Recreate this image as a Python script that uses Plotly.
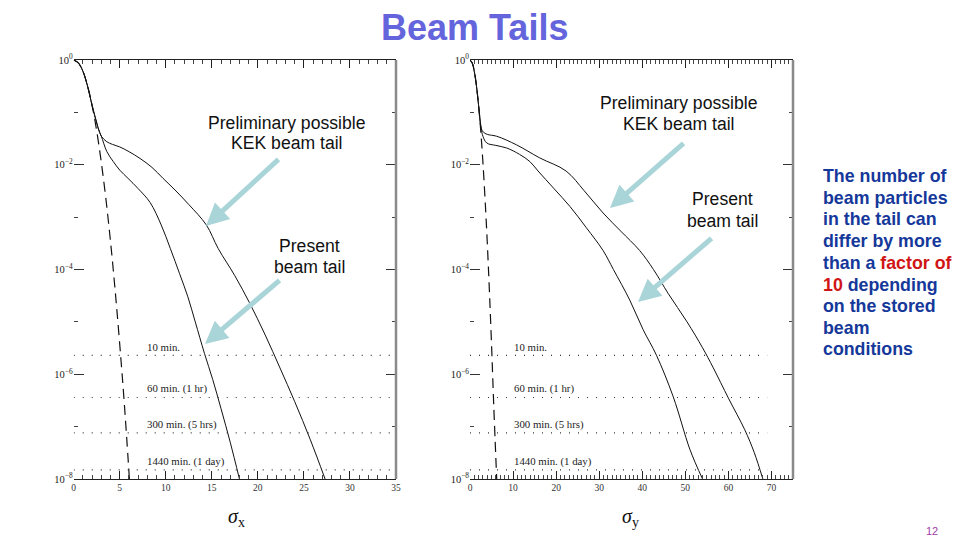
import math
import plotly.graph_objects as go

# ---------------- data ----------------
# Left panel: sigma_x
LX_GAUSS = [0, 0.5, 1.0, 1.5, 2.0, 2.5, 3.0, 3.5, 4.0, 4.5, 5.0, 5.5, 6.05]
LY_GAUSS = [1.0, 0.88, 0.61, 0.32, 0.135, 0.044, 0.011, 2.2e-3, 3.4e-4, 4.0e-5, 3.7e-6, 2.7e-7, 1.0e-8]

LX_KEK = [0, 0.5, 1.0, 1.5, 2.0, 2.5, 2.7, 3.0, 3.6, 4.2, 5.0, 6.0, 7.2, 8.5, 9.7, 11.0, 12.5,
          14.4, 15.7, 17.5, 19.1, 20.8, 22.4, 24.0, 25.7, 27.3]
LY_KEK = [1.0, 0.88, 0.61, 0.32, 0.135, 0.063, 0.048, 0.035, 0.0275, 0.0245, 0.0219, 0.0178, 0.0132,
          8.9e-3, 5.5e-3, 3.3e-3, 1.74e-3, 7.1e-4, 2.5e-4, 7.6e-5, 2.3e-5, 5.6e-6, 1.32e-6, 3.0e-7,
          5.6e-8, 1.0e-8]

LX_PRES = [0, 0.5, 1.0, 1.5, 2.0, 2.5, 2.7, 3.0, 3.6, 4.3, 5.0, 5.9, 7.0, 8.3, 9.5, 10.5, 11.5,
           12.4, 13.2, 14.2, 15.1, 16.0, 17.0, 18.0]
LY_PRES = [1.0, 0.88, 0.61, 0.32, 0.135, 0.063, 0.047, 0.035, 0.0178, 0.0115, 7.9e-3, 5.5e-3, 3.5e-3,
           1.9e-3, 7.1e-4, 2.5e-4, 8.3e-5, 3.0e-5, 1.0e-5, 2.5e-6, 7.9e-7, 2.2e-7, 5.0e-8, 1.0e-8]

# Right panel: sigma_y
RX_GAUSS = [0, 0.5, 1.0, 1.5, 2.0, 2.5, 3.0, 3.5, 4.0, 4.5, 5.0, 5.5, 6.2]
RY_GAUSS = [1.0, 0.88, 0.61, 0.32, 0.135, 0.044, 0.011, 2.2e-3, 3.4e-4, 4.0e-5, 3.7e-6, 2.7e-7, 1.0e-8]

RX_KEK = [0, 0.5, 1.0, 1.5, 2.0, 2.6, 3.1, 4.0, 6.2, 10.8, 16.2, 22.3, 26.5, 30.9, 35.0, 39.4,
          42.6, 46.0, 50.4, 54.0, 56.5, 60.0, 63.8, 66.0, 68.0]
RY_KEK = [1.0, 0.89, 0.60, 0.32, 0.135, 0.050, 0.042, 0.038, 0.035, 0.024, 0.0135, 7.6e-3, 3.2e-3,
          1.2e-3, 5.4e-4, 2.3e-4, 1.0e-4, 3.5e-5, 1.0e-5, 3.2e-6, 1.32e-6, 3.5e-7, 8.7e-8, 3.2e-8, 1.0e-8]

RX_PRES = [0, 0.5, 1.0, 1.5, 2.0, 2.6, 3.0, 3.9, 6.0, 8.5, 11.5, 13.9, 15.8, 19.5, 23.2, 27.0,
           30.9, 33.3, 37.1, 40.2, 43.3, 47.2, 51.1, 54.0]
RY_PRES = [1.0, 0.89, 0.60, 0.32, 0.135, 0.050, 0.035, 0.026, 0.0234, 0.0209, 0.0158, 0.0115, 7.6e-3,
           3.5e-3, 1.6e-3, 6.3e-4, 2.3e-4, 1.0e-4, 2.6e-5, 7.1e-6, 2.3e-6, 3.7e-7, 3.6e-8, 1.0e-8]

# Storage-time thresholds (horizontal dotted lines)
TIME_LABELS = ["10 min.", "60 min. (1 hr)", "300 min. (5 hrs)", "1440 min. (1 day)"]
TIME_LEVELS = [2.3e-6, 3.6e-7, 7.6e-8, 1.5e-8]
LEFT_DOT_X = [0, 35]
RIGHT_DOT_X = [0, 69]
LEFT_LABEL_X = 7.7
RIGHT_LABEL_X = 9.7

Y_TICKVALS = [1, 1e-2, 1e-4, 1e-6, 1e-8]
Y_TICKTEXT = ["10<sup>0</sup>", "10<sup>−2</sup>", "10<sup>−4</sup>", "10<sup>−6</sup>", "10<sup>−8</sup>"]
Y_MINOR = [1e-1, 1e-3, 1e-5, 1e-7]
LEFT_XTICKS = [0, 5, 10, 15, 20, 25, 30, 35]
RIGHT_XTICKS = [0, 10, 20, 30, 40, 50, 60, 70]

TITLE = "Beam Tails"
CALLOUT_KEK = ["Preliminary possible", "KEK beam tail"]
CALLOUT_PRESENT = ["Present", "beam tail"]
RED = "#d01515"
SIDE_LINES = [
    "The number of",
    "beam particles",
    "in the tail can",
    "differ by more",
    f"than a <span style='color:{RED}'>factor of</span>",
    f"<span style='color:{RED}'>10</span> depending",
    "on the stored",
    "beam",
    "conditions",
]
PAGE_NO = "12"

# ---------------- figure ----------------
W, H = 960, 540
fig = go.Figure()


def px(x):
    return x / W


def py(y):
    return 1 - y / H


curve_line = dict(color="#111111", width=1)
dash_line = dict(color="#111111", width=1.2, dash="10px,6px")
dot_line = dict(color="#333333", width=1.2, dash="1px,8px")

for xa, ya, gx, gy, kx, ky, pxx, pyy, dx in [
    ("x", "y", LX_GAUSS, LY_GAUSS, LX_KEK, LY_KEK, LX_PRES, LY_PRES, LEFT_DOT_X),
    ("x2", "y2", RX_GAUSS, RY_GAUSS, RX_KEK, RY_KEK, RX_PRES, RY_PRES, RIGHT_DOT_X),
]:
    fig.add_trace(go.Scatter(x=gx, y=gy, mode="lines", line=dash_line, xaxis=xa, yaxis=ya,
                             line_shape="spline", showlegend=False, hoverinfo="skip"))
    fig.add_trace(go.Scatter(x=kx, y=ky, mode="lines", line=curve_line, xaxis=xa, yaxis=ya,
                             line_shape="spline", showlegend=False, hoverinfo="skip"))
    fig.add_trace(go.Scatter(x=pxx, y=pyy, mode="lines", line=curve_line, xaxis=xa, yaxis=ya,
                             line_shape="spline", showlegend=False, hoverinfo="skip"))
    for lev in TIME_LEVELS:
        fig.add_trace(go.Scatter(x=dx, y=[lev, lev], mode="lines", line=dot_line, xaxis=xa, yaxis=ya,
                                 showlegend=False, hoverinfo="skip"))

serif = "Liberation Serif, DejaVu Serif, serif"
sans = "Liberation Sans, Arial, sans-serif"


def xaxis_cfg(domain, rng, ticks, anchor):
    return dict(domain=domain, range=rng, anchor=anchor, automargin=False,
                tickvals=ticks, ticktext=[str(t) for t in ticks],
                ticks="inside", ticklen=8, tickwidth=1, tickcolor="#222",
                showline=True, linecolor="#222", linewidth=1, mirror="ticks",
                showgrid=False, zeroline=False,
                minor=dict(dtick=1, tick0=0, ticks="inside", ticklen=4, tickcolor="#444", showgrid=False),
                tickfont=dict(family=serif, size=9.5, color="#333"))


def yaxis_cfg(anchor):
    return dict(domain=[py(479), py(60)], type="log", range=[-8, 0], anchor=anchor, automargin=False,
                tickvals=Y_TICKVALS, ticktext=Y_TICKTEXT,
                ticks="inside", ticklen=10, tickwidth=1, tickcolor="#333",
                showline=False, mirror="ticks", showgrid=False, zeroline=False,
                minor=dict(tickmode="array", tickvals=Y_MINOR, ticks="inside", ticklen=4,
                           tickcolor="#444", showgrid=False),
                tickfont=dict(family=serif, size=10.5, color="#222"))


fig.update_layout(
    width=W, height=H, margin=dict(l=0, r=0, t=0, b=0, pad=0), autosize=False,
    paper_bgcolor="white", plot_bgcolor="white", showlegend=False,
    xaxis=xaxis_cfg([px(73.7), px(396)], [0, 35], LEFT_XTICKS, "y"),
    yaxis=yaxis_cfg("x"),
    xaxis2=xaxis_cfg([px(470), px(793)], [0, 75], RIGHT_XTICKS, "y2"),
    yaxis2=yaxis_cfg("x2"),
)

shapes = []
for xr, yr in [("x domain", "y domain"), ("x2 domain", "y2 domain")]:
    shapes.append(dict(type="line", xref=xr, yref=yr, x0=1, x1=1, y0=0, y1=1,
                       line=dict(color="#8a8a8a", width=2.5)))
fig.update_layout(shapes=shapes)

ann = []
# time-level labels
for xr, yr, lx in [("x", "y", LEFT_LABEL_X), ("x2", "y2", RIGHT_LABEL_X)]:
    for lab, lev in zip(TIME_LABELS, TIME_LEVELS):
        ann.append(dict(xref=xr, yref=yr, x=lx, y=math.log10(lev), text=lab, showarrow=False,
                        xanchor="left", yanchor="bottom", yshift=0,
                        font=dict(family=serif, size=10.8, color="#222")))

# title
ann.append(dict(xref="paper", yref="paper", x=px(474), y=py(27), text=f"<b>{TITLE}</b>",
                showarrow=False, xanchor="center", yanchor="middle",
                font=dict(family=sans, size=36, color="#6464dc")))

# axis symbols
ann.append(dict(xref="paper", yref="paper", x=px(236), y=py(517), text="<i>σ</i><sub>x</sub>",
                showarrow=False, xanchor="center", yanchor="middle",
                font=dict(family=serif, size=20, color="#111")))
ann.append(dict(xref="paper", yref="paper", x=px(630), y=py(517), text="<i>σ</i><sub>y</sub>",
                showarrow=False, xanchor="center", yanchor="middle",
                font=dict(family=serif, size=20, color="#111")))

# callout texts (one annotation per line)
callouts = [
    (286, [123, 143], CALLOUT_KEK),
    (309, [246, 267], CALLOUT_PRESENT),
    (678, [103, 124], CALLOUT_KEK),
    (722, [199, 221], CALLOUT_PRESENT),
]
for cx, ys, lines in callouts:
    for yy, t in zip(ys, lines):
        ann.append(dict(xref="paper", yref="paper", x=px(cx), y=py(yy), text=t, showarrow=False,
                        xanchor="center", yanchor="middle",
                        font=dict(family=sans, size=17.6, color="#111")))

# arrows (tail -> head)
arrows = [
    ((280, 158), (206, 226)),
    ((281, 279), (205, 344)),
    ((685, 142), (610, 208)),
    ((713, 237), (638, 302)),
]
for (tx, ty), (hx, hy) in arrows:
    ann.append(dict(xref="paper", yref="paper", x=px(hx), y=py(hy), ax=tx - hx, ay=ty - hy,
                    axref="pixel", ayref="pixel", text="", showarrow=True,
                    arrowhead=2, arrowsize=0.9, arrowwidth=5, arrowcolor="#a9d4d8"))

# side note (one annotation per line)
SIDE_Y = [176, 198, 219, 241, 263, 285, 306, 328, 349]
for yy, t in zip(SIDE_Y, SIDE_LINES):
    ann.append(dict(xref="paper", yref="paper", x=px(821), y=py(yy), text=f"<b>{t}</b>",
                    showarrow=False, xanchor="left", yanchor="middle",
                    font=dict(family=sans, size=17.8, color="#15389a")))

# page number
ann.append(dict(xref="paper", yref="paper", x=px(932), y=py(531), text=PAGE_NO, showarrow=False,
                xanchor="center", yanchor="middle",
                font=dict(family=sans, size=11, color="#a03ca8")))

fig.update_layout(annotations=ann)

fig.write_html("out.html")
